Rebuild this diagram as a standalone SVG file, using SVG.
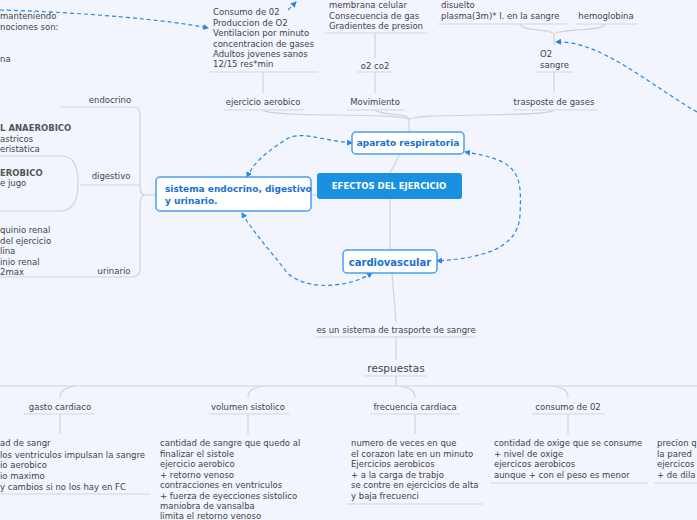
<svg xmlns="http://www.w3.org/2000/svg" width="697" height="520" viewBox="0 0 697 520">
<defs>
<marker id="ah" viewBox="0 0 6 6" refX="5" refY="3" markerWidth="5" markerHeight="5" orient="auto-start-reverse"><path d="M0,0L6,3L0,6z" fill="#2a86e0"/></marker>
<style>
text{font-family:"DejaVu Sans","Liberation Sans",sans-serif;font-size:8.5px;fill:#444}
.c{text-anchor:middle}
.ln{stroke:#cfd3da;stroke-width:1.2;fill:none}
.ul{stroke:#d3d6dc;stroke-width:1.2}
.dash{stroke:#2a86e0;stroke-width:1.2;fill:none;stroke-dasharray:4 3}
.nb{fill:#fff;stroke:#4a9fef;stroke-width:1.5}
.nt{fill:#1a6fd0;font-weight:bold;font-size:9px}
</style>
</defs>
<rect width="697" height="520" fill="#f2f5fd"/>
<g id="connectors">
<path class="ln" d="M409,132V120M409,120C409,112 270,118 263,110M409,120C409,112 380,116 375,110M409,120C409,112 550,118 554,110"/>
<path class="ln" d="M263,93V72M375,93V72M375,58V33M554,93V72M554,45V35M554,35C554,28 520,32 520,24M554,35C554,28 605,32 605,24"/>
<path class="ln" d="M400,154L390,173M390,199V250M392,273L396,322M396,336V360M396,376V386M0,386H697"/>
<path class="ln" d="M156,195H146M146,195C140,195 140,190 140,180V115C140,108 137,107 130,107H60M146,195C140,195 140,190 140,185H80M146,195C140,195 140,200 140,210V268C140,275 137,277 130,277H0"/>
<path class="ln" d="M78,183C78,160 70,156 60,156H0M78,183C78,205 70,211 60,211H0"/>
<path class="ln" d="M60,398C60,390 65,388 75,386M60,414V434M248,398C248,390 253,388 263,386M248,414V434M415,398C415,390 410,388 400,386M415,414V434M568,398C568,390 563,388 553,386M568,414V434"/>
<path class="ln" d="M311,195H317"/>
<path class="dash" marker-end="url(#ah)" d="M0,10C80,12 170,20 208,28"/>
<path class="dash" marker-end="url(#ah)" d="M288,10L296,2"/>
<path class="dash" marker-end="url(#ah)" marker-start="url(#ah)" d="M352,143C320,140 300,130 285,140C270,150 255,160 247,177"/>
<path class="dash" marker-end="url(#ah)" marker-start="url(#ah)" d="M372,273C345,290 300,290 285,270C270,250 255,235 242,213"/>
<path class="dash" marker-end="url(#ah)" marker-start="url(#ah)" d="M465,152C520,160 522,175 520,215C518,250 480,258 437,261"/>
<path class="dash" marker-end="url(#ah)" d="M697,112C650,85 600,40 556,42"/>
</g>
<g id="center"><rect x="317" y="173" width="145" height="26" rx="3" fill="#1a91e0"/><text x="389" y="189" class="c" style="fill:#fff;font-weight:bold;font-size:8.5px">EFECTOS DEL EJERCICIO</text></g>
<g id="aparato"><rect class="nb" x="352" y="132" width="112" height="22" rx="4"/><text class="c nt" x="408" y="146">aparato respiratoria</text></g>
<g id="sistema"><rect class="nb" x="156" y="177" width="155" height="34" rx="4"/><text class="nt" x="165" y="192">sistema endocrino, digestivo</text><text class="nt" x="165" y="204">y urinario.</text></g>
<g id="cardio"><rect class="nb" x="343" y="250" width="94" height="23" rx="4"/><text class="c nt" x="390" y="266" style="font-size:10px">cardiovascular</text></g>
<g id="top-left"><text x="0" y="19">manteniendo</text><text x="0" y="30">nociones son:</text><text x="0" y="62">na</text></g>
<g id="consumo-block"><text x="213" y="15">Consumo de 02</text><text x="213" y="26">Produccion de O2</text><text x="213" y="36">Ventilacion por minuto</text><text x="213" y="47">concentracion de gases</text><text x="213" y="57">Adultos jovenes sanos</text><text x="213" y="67">12/15 res*min</text><line class="ul" x1="209" y1="72" x2="318" y2="72"/></g>
<g id="ejercicio"><text class="c" x="263" y="105">ejercicio aerobico</text><line class="ul" x1="223" y1="110" x2="305" y2="110"/></g>
<g id="movimiento"><text class="c" x="375" y="105">Movimiento</text><line class="ul" x1="347" y1="110" x2="405" y2="110"/></g>
<g id="trasposte"><text class="c" x="554" y="105">trasposte de gases</text><line class="ul" x1="513" y1="110" x2="598" y2="110"/></g>
<g id="o2co2"><text class="c" x="375" y="69">o2 co2</text><line class="ul" x1="357" y1="72" x2="393" y2="72"/></g>
<g id="membrana"><text x="329" y="8">membrana celular</text><text x="329" y="19">Consecuencia de gas</text><text x="329" y="29">Gradientes de presion</text><line class="ul" x1="325" y1="33" x2="427" y2="33"/></g>
<g id="o2sangre"><text x="540" y="57">O2</text><text x="540" y="68">sangre</text><line class="ul" x1="536" y1="72" x2="573" y2="72"/></g>
<g id="disuelto"><text x="441" y="8">disuelto</text><text x="441" y="19">plasma(3m)* l. en la sangre</text><line class="ul" x1="438" y1="24" x2="568" y2="24"/></g>
<g id="hemoglobina"><text class="c" x="606" y="19">hemoglobina</text><line class="ul" x1="576" y1="24" x2="637" y2="24"/></g>
<g id="endocrino"><text class="c" x="110" y="103">endocrino</text></g>
<g id="digestivo"><text class="c" x="111" y="179">digestivo</text></g>
<g id="urinario"><text class="c" x="114" y="274">urinario</text></g>
<g id="left-texts"><text x="0" y="131" style="font-weight:bold;fill:#555">L ANAEROBICO</text><text x="0" y="142">astricos</text><text x="0" y="152">eristatica</text><text x="0" y="176" style="font-weight:bold;fill:#555">EROBICO</text><text x="0" y="186">e jugo</text><text x="0" y="233">quinio renal</text><text x="0" y="244"> del ejercicio</text><text x="0" y="254">lina</text><text x="0" y="265">inio renal</text><text x="0" y="275">2max</text></g>
<g id="trasporte"><text class="c" x="396" y="333">es un sistema de trasporte de sangre</text><line class="ul" x1="316" y1="337" x2="475" y2="337"/></g>
<g id="respuestas"><text class="c" x="396" y="372" style="font-size:10.5px">respuestas</text><line class="ul" x1="364" y1="376" x2="427" y2="376"/></g>
<g id="gasto"><text class="c" x="60" y="410">gasto cardiaco</text><line class="ul" x1="24" y1="414" x2="95" y2="414"/><text x="0" y="446">ad de sangr</text><text x="0" y="458">los ventriculos impulsan la sangre</text><text x="0" y="468">io aerobico</text><text x="0" y="479">io maximo</text><text x="0" y="490">y cambios si no los hay en FC</text><line class="ul" x1="0" y1="494" x2="150" y2="494"/></g>
<g id="volumen"><text class="c" x="248" y="410">volumen sistolico</text><line class="ul" x1="207" y1="414" x2="290" y2="414"/><text x="160" y="446">cantidad de sangre que quedo al</text><text x="160" y="457">finalizar el sistole</text><text x="160" y="467">ejercicio aerobico</text><text x="160" y="478">+ retorno venoso</text><text x="160" y="488">contracciones en ventriculos</text><text x="160" y="499">+ fuerza de eyecciones sistolico</text><text x="160" y="509">maniobra de vansalba</text><text x="160" y="519">limita el retorno venoso</text></g>
<g id="frecuencia"><text class="c" x="415" y="410">frecuencia cardiaca</text><line class="ul" x1="370" y1="414" x2="460" y2="414"/><text x="351" y="446">numero de veces en que</text><text x="351" y="457">el corazon late en un minuto</text><text x="351" y="467">Ejercicios aerobicos</text><text x="351" y="478">+ a la carga de trabjo</text><text x="351" y="488">se contre en ejercicios de alta</text><text x="351" y="499">y baja frecuenci</text><line class="ul" x1="347" y1="504" x2="483" y2="504"/></g>
<g id="consumo"><text class="c" x="568" y="410">consumo de 02</text><line class="ul" x1="532" y1="414" x2="605" y2="414"/><text x="494" y="446">contidad de oxige que se consume</text><text x="494" y="457">+ nivel de oxige</text><text x="494" y="467">ejercicos aerobicos</text><text x="494" y="478">aunque + con el peso es menor</text><line class="ul" x1="490" y1="483" x2="647" y2="483"/></g>
<g id="precion"><text x="657" y="446">precion q</text><text x="657" y="457">la pared</text><text x="657" y="467">ejercicos</text><text x="657" y="478">+ de dila</text><line class="ul" x1="654" y1="483" x2="697" y2="483"/></g>
</svg>
